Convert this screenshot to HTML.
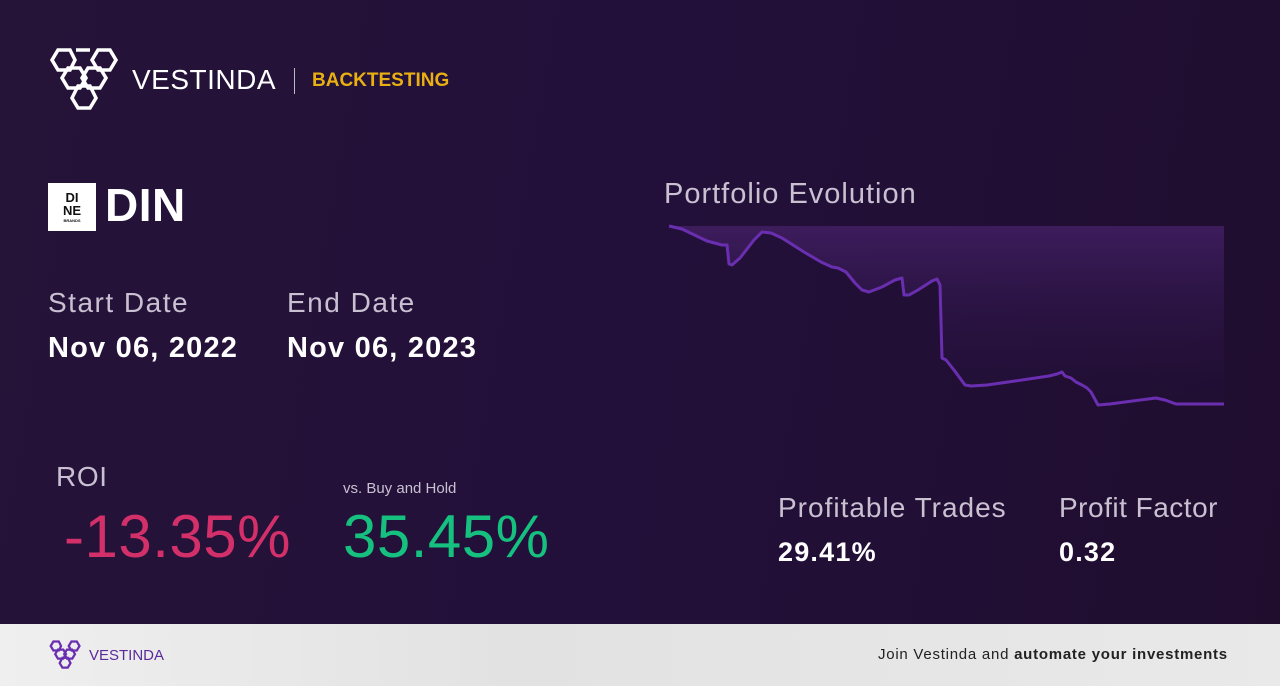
<!DOCTYPE html>
<html><head><meta charset="utf-8"><style>
*{margin:0;padding:0;box-sizing:border-box}
body{width:1280px;height:686px;overflow:hidden;font-family:"Liberation Sans",sans-serif;background:linear-gradient(100deg,#251338 0%,#22103a 50%,#200d2e 100%);position:relative;color:#fff}
.a{position:absolute;white-space:nowrap}
.lab{color:#c9c0d2;font-size:28px;letter-spacing:0.6px}
.val{color:#fff;font-size:29px;font-weight:bold;letter-spacing:1.2px}
.footer{position:absolute;left:0;top:624px;width:1280px;height:62px;background:linear-gradient(90deg,#efefef,#e2e2e2 40%,#e9e9e9)}
</style></head><body>
<svg class="a" style="left:46px;top:46px" width="80" height="68" viewBox="0 0 80 68" fill="none" stroke="#fff" stroke-width="3.5">
<polygon points="12,4 24,4 29,14 24,24 12,24 6,14"/>
<polygon points="52,4 64,4 70,14 64,24 52,24 46,14"/>
<polygon points="22,22 34,22 40,32 34,42 22,42 16,32"/>
<polygon points="42,22 54,22 60,32 54,42 42,42 36,32"/>
<polygon points="32,40 44,40 50,52 44,62 32,62 26,52"/>
<line x1="30" y1="4" x2="44" y2="4"/>
</svg>
<div class="a" style="left:132px;top:64px;font-size:28px;letter-spacing:0.5px;color:#fff">VESTINDA</div>
<div class="a" style="left:294px;top:68px;width:1px;height:26px;background:#bbb"></div>
<div class="a" style="left:312px;top:70px;font-size:19px;font-weight:bold;color:#e8b012">BACKTESTING</div>
<div class="a" style="left:48px;top:183px;width:48px;height:48px;background:#fff;color:#111;font-weight:bold;font-size:13px;line-height:13px;text-align:center;padding-top:8px">DI<br>NE<div style="font-size:4px;line-height:8px">BRANDS</div></div>
<div class="a" style="left:105px;top:178px;font-size:46px;font-weight:bold;letter-spacing:0.5px">DIN</div>
<div class="a lab" style="left:48px;top:287px;letter-spacing:1.5px">Start Date</div>
<div class="a lab" style="left:287px;top:287px;letter-spacing:1.5px">End Date</div>
<div class="a val" style="left:48px;top:332px">Nov 06, 2022</div>
<div class="a val" style="left:287px;top:332px">Nov 06, 2023</div>
<div class="a lab" style="left:56px;top:461px">ROI</div>
<div class="a" style="left:343px;top:480px;font-size:15px;color:#c9c0d2">vs. Buy and Hold</div>
<div class="a" style="left:64px;top:502px;font-size:60px;color:#d3306a;letter-spacing:0.5px">-13.35%</div>
<div class="a" style="left:343px;top:502px;font-size:60px;color:#16c07f;letter-spacing:0.5px">35.45%</div>
<div class="a lab" style="left:664px;top:178px;font-size:29px;letter-spacing:1px">Portfolio Evolution</div>
<div class="a lab" style="left:778px;top:492px;letter-spacing:1px">Profitable Trades</div>
<div class="a lab" style="left:1059px;top:492px;letter-spacing:0.5px">Profit Factor</div>
<div class="a val" style="left:778px;top:537px;font-size:27px">29.41%</div>
<div class="a val" style="left:1059px;top:537px;font-size:27px">0.32</div>
<svg class="a" style="left:0;top:0" width="1280" height="620">
<defs><linearGradient id="g" x1="0" y1="226" x2="0" y2="404" gradientUnits="userSpaceOnUse"><stop offset="0" stop-color="#3d1c5c"/><stop offset="1" stop-color="#22103a" stop-opacity="0.2"/></linearGradient></defs>
<path d="M669,226 L1224,226 L1224,404 L1176,404 L1165,400 L1156,398 L1148,399 L1110,404 L1098,405 L1091,392 L1087,388 L1082,385 L1076,382 L1071,378 L1065,376 L1062,372 L1057,374 L1049,376 L1015,381 L987,385 L971,386 L965,385 L954,370 L946,360 L942,358 L940,285 L937,279 L932,281 L918,290 L909,295 L904,295 L902,278 L895,280 L882,287 L869,292 L862,290 L855,283 L846,272 L838,268 L832,267 L821,262 L804,252 L782,238 L771,233 L762,232 L754,240 L740,258 L732,265 L729,264 L727,245 L722,245 L707,241 L682,229 Z" fill="url(#g)"/>
<polyline fill="none" stroke="#6a2fb0" stroke-width="3" stroke-linejoin="round" points="669,226 682,229 707,241 722,245 727,245 729,264 732,265 740,258 754,240 762,232 771,233 782,238 804,252 821,262 832,267 838,268 846,272 855,283 862,290 869,292 882,287 895,280 902,278 904,295 909,295 918,290 932,281 937,279 940,285 942,358 946,360 954,370 965,385 971,386 987,385 1015,381 1049,376 1057,374 1062,372 1065,376 1071,378 1076,382 1082,385 1087,388 1091,392 1098,405 1110,404 1148,399 1156,398 1165,400 1176,404 1224,404"/>
</svg>
<div class="footer">
<svg class="a" style="left:48px;top:14px" width="36" height="34" viewBox="0 0 80 68" fill="none" stroke="#6a2fb0" stroke-width="5">
<polygon points="12,4 24,4 29,14 24,24 12,24 6,14"/><polygon points="52,4 64,4 70,14 64,24 52,24 46,14"/><polygon points="22,22 34,22 40,32 34,42 22,42 16,32"/><polygon points="42,22 54,22 60,32 54,42 42,42 36,32"/><polygon points="32,40 44,40 50,52 44,62 32,62 26,52"/></svg>
<div class="a" style="left:89px;top:23px;font-size:15px;color:#5a2a9a">VESTINDA</div>
<div class="a" style="left:878px;top:22px;font-size:15px;color:#222;letter-spacing:0.75px">Join Vestinda and <b>automate your investments</b></div>
</div>
</body></html>
